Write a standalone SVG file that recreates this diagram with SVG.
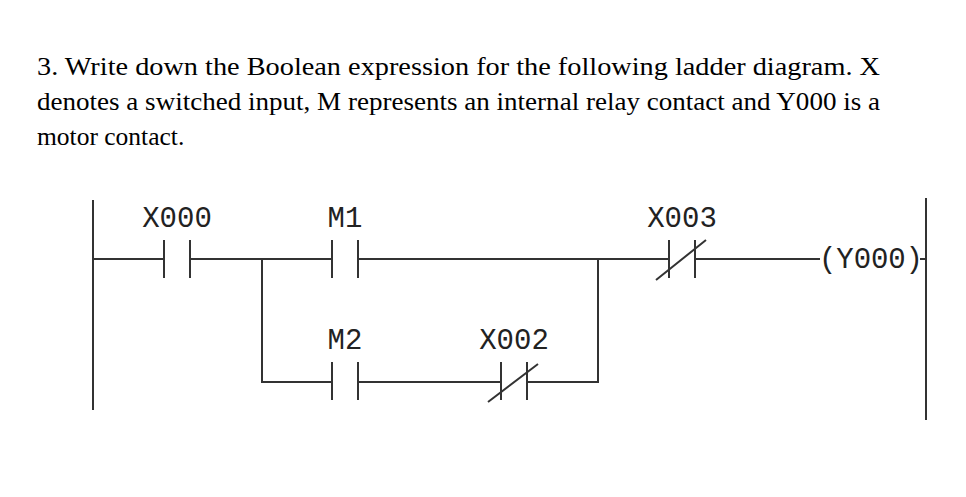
<svg xmlns="http://www.w3.org/2000/svg" width="966" height="497" viewBox="0 0 966 497">
<style>
.q{font-family:"Liberation Serif",serif;font-size:25.5px;fill:#000}
.l{font-family:"Liberation Mono",monospace;font-size:29px;fill:#222}
.w{stroke:#333;stroke-width:2;fill:none}
</style>
<rect width="966" height="497" fill="#fff"/>
<text class="q" x="37" y="75" textLength="843" lengthAdjust="spacingAndGlyphs">3. Write down the Boolean expression for the following ladder diagram. X</text>
<text class="q" x="37" y="110" textLength="843" lengthAdjust="spacingAndGlyphs">denotes a switched input, M represents an internal relay contact and Y000 is a</text>
<text class="q" x="37" y="145">motor contact.</text>
<g id="wires" class="w">
<path d="M93 200V410M926 198V420"/>
<path d="M93 259H164M190 259H332M358 259H669M695 259H820M920 259H926"/>
<path d="M262 259V382H332M358 382H501M527 382H598V259"/>
</g>
<g id="X000" class="w"><path d="M164 240V278M190 240V278"/><text class="l" x="177" y="227" text-anchor="middle" stroke="none">X000</text></g>
<g id="M1" class="w"><path d="M332 240V278M358 240V278"/><text class="l" x="345" y="227" text-anchor="middle" stroke="none">M1</text></g>
<g id="M2" class="w"><path d="M332 362V400M358 362V400"/><text class="l" x="345" y="349" text-anchor="middle" stroke="none">M2</text></g>
<g id="X002" class="w"><path d="M501 362V400M527 362V400M488 402L538 364"/><text class="l" x="514" y="349" text-anchor="middle" stroke="none">X002</text></g>
<g id="X003" class="w"><path d="M669 240V278M695 240V278M656 280L706 240"/><text class="l" x="682" y="227" text-anchor="middle" stroke="none">X003</text></g>
<g id="Y000"><text class="l" x="871" y="268" text-anchor="middle" textLength="104">(Y000)</text></g>
</svg>
